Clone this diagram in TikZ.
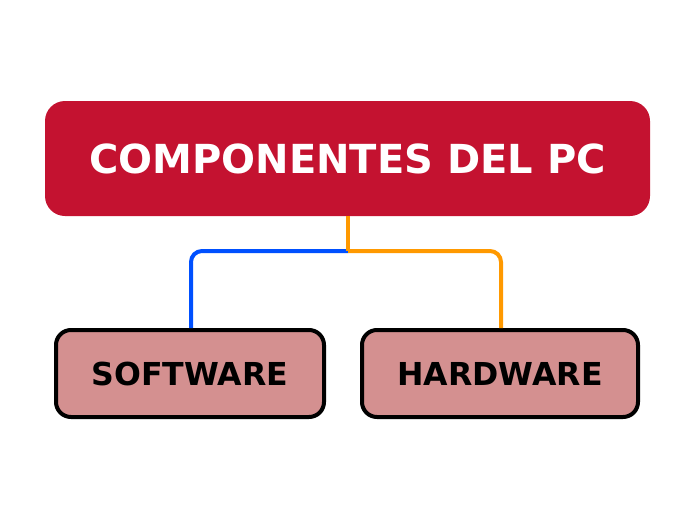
\documentclass[tikz,border=0pt]{standalone}
\usepackage{fontspec}
\setmainfont{DejaVu Sans}
\definecolor{mainred}{HTML}{C41230}
\definecolor{subpink}{HTML}{D49090}
\definecolor{lineblue}{HTML}{0050FF}
\definecolor{lineorange}{HTML}{FF9900}
\begin{document}
\begin{tikzpicture}[x=1pt,y=1pt,
  mainbox/.style={fill=mainred,rounded corners=20pt,text=white,font=\bfseries\fontsize{40}{46}\selectfont,inner sep=0pt},
  subbox/.style={draw=black,line width=4pt,fill=subpink,rounded corners=15pt,font=\bfseries\fontsize{31.6}{37}\selectfont,inner sep=0pt},
  conn/.style={line width=4pt,rounded corners=11pt}]
\useasboundingbox (0,0) rectangle (696,-520);
\node[mainbox,minimum width=605pt,minimum height=115pt] (main) at (347.5,-158.5) {\raisebox{-2pt}{COMPONENTES DEL PC}};
\node[subbox,minimum width=268pt,minimum height=87pt] (soft) at (190,-373.5) {\raisebox{-2.5pt}{SOFTWARE}};
\node[subbox,minimum width=276pt,minimum height=87pt] (hard) at (500,-373.5) {\raisebox{-2.5pt}{HARDWARE}};
\coordinate (junc) at (348,-251);
\draw[conn,lineblue] (junc) -| (soft.north -| 191,0);
\draw[conn,lineorange] (junc) -| (hard.north -| 501,0);
\draw[line width=4pt,lineorange] (main.south -| junc) -- (junc);
\end{tikzpicture}
\end{document}
